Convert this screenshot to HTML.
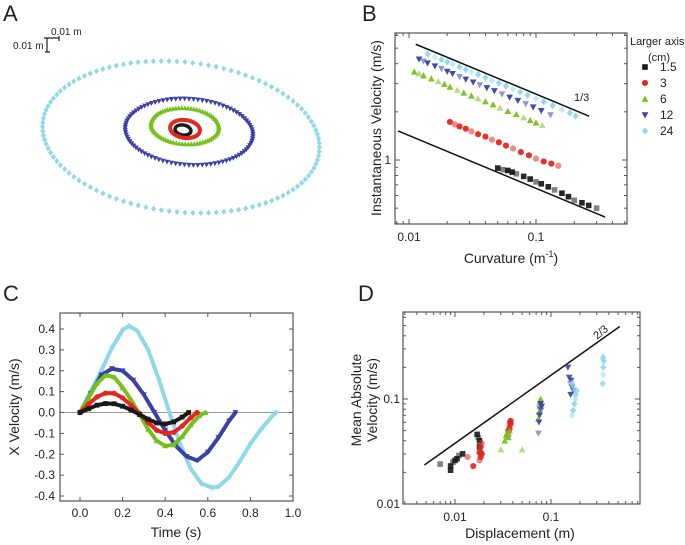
<!DOCTYPE html>
<html><head><meta charset="utf-8"><style>
body{margin:0;background:#fff;font-family:"Liberation Sans",Arial,sans-serif}
svg{display:block}
text{font-family:"Liberation Sans",Arial,sans-serif;fill:#222}
</style></head><body>
<svg id="fig" width="685" height="545" viewBox="0 0 685 545">
<text x="3" y="21" font-size="22">A</text>
<text x="362" y="21" font-size="22">B</text>
<text x="3" y="301" font-size="22">C</text>
<text x="358" y="301" font-size="22">D</text>
<g id="pa">
<text x="51" y="35" font-size="10">0.01 m</text>
<text x="13" y="49" font-size="10">0.01 m</text>
<path d="M47 38 V52 M44 38 H59 M59 36 V41 M45 52 H50" stroke="#222" stroke-width="1.2" fill="none"/>
</g>
<g id="pb"></g>
<g id="pc"></g>
<g id="pd"></g>
</svg>
<script>
// ---------- data ----------
const seriesNames=["1.5","3","6","12","24"];
const colors=["#1a1a1a","#e3261f","#74c01c","#3b40a4","#8fd8e8"];
const shapes=["square","circle","up","down","diamond"];
// Panel A ellipses: [cx, cy, rx, ry, rotation deg]
const ellA=[[183,130,8,5,10],[185,129,15,9,8],[185,126,34,18,4],[189,132,64,33,4],[181,137,139,75,6]];
// Panel B: curvature and velocity
const bCurv=[
[0.05,0.055,0.06,0.065,0.07,0.08,0.09,0.1,0.11,0.125,0.14,0.16,0.18,0.2,0.23,0.26,0.3],
[0.021,0.023,0.025,0.028,0.031,0.035,0.04,0.045,0.051,0.058,0.066,0.076,0.088,0.1,0.115,0.132,0.15],
[0.011,0.012,0.013,0.015,0.017,0.019,0.021,0.024,0.027,0.031,0.035,0.04,0.046,0.052,0.06,0.07,0.08,0.09,0.1,0.112],
[0.012,0.013,0.014,0.016,0.018,0.02,0.022,0.025,0.028,0.032,0.036,0.041,0.047,0.054,0.062,0.072,0.083,0.095,0.11,0.13],
[0.014,0.016,0.018,0.02,0.022,0.025,0.028,0.031,0.035,0.04,0.045,0.051,0.058,0.066,0.075,0.086,0.1,0.115,0.135,0.16,0.185,0.205]];
const bVel=[
[0.89,0.87,0.86,0.84,0.82,0.79,0.76,0.73,0.71,0.68,0.65,0.62,0.59,0.56,0.54,0.52,0.5],
[1.73,1.67,1.62,1.57,1.51,1.45,1.4,1.34,1.29,1.23,1.18,1.12,1.07,1.02,0.98,0.95,0.92],
[3.56,3.47,3.37,3.22,3.1,2.98,2.86,2.74,2.63,2.52,2.42,2.32,2.22,2.12,2.02,1.93,1.84,1.77,1.71,1.65],
[4.26,4.14,4.03,3.86,3.72,3.57,3.46,3.31,3.19,3.06,2.94,2.82,2.7,2.58,2.46,2.35,2.24,2.14,2.03,1.91],
[4.6,4.4,4.25,4.1,3.98,3.82,3.67,3.56,3.42,3.28,3.15,3.03,2.9,2.78,2.66,2.54,2.42,2.31,2.19,2.07,1.97,1.88]];
const bLines=[[0.0113,5.29,0.262,1.88],[0.0082,1.52,0.35,0.44]];
const bXTicks=[0.01,0.1];
const bYTicks=[1];
// Panel C: time (s) and x velocity (m/s)
const cTime=[
[0,0.04,0.08,0.12,0.16,0.2,0.24,0.28,0.32,0.36,0.4,0.44,0.48,0.51],
[0,0.04,0.08,0.12,0.16,0.2,0.24,0.28,0.32,0.36,0.4,0.44,0.48,0.52,0.55],
[0,0.04,0.08,0.12,0.16,0.2,0.24,0.28,0.32,0.36,0.4,0.44,0.48,0.52,0.56,0.59],
[0,0.05,0.1,0.15,0.2,0.25,0.3,0.35,0.4,0.45,0.5,0.55,0.6,0.65,0.7,0.73],
[0,0.05,0.1,0.15,0.2,0.23,0.27,0.32,0.37,0.42,0.47,0.52,0.57,0.62,0.65,0.7,0.75,0.8,0.85,0.9,0.92]];
const cVel=[
[0,0.018,0.035,0.043,0.042,0.03,0.012,-0.01,-0.032,-0.05,-0.055,-0.045,-0.022,0],
[0,0.04,0.075,0.093,0.092,0.07,0.035,-0.005,-0.048,-0.085,-0.1,-0.095,-0.065,-0.025,0],
[0,0.07,0.14,0.178,0.17,0.12,0.06,-0.01,-0.08,-0.135,-0.16,-0.155,-0.115,-0.06,-0.015,0],
[0,0.09,0.18,0.21,0.2,0.155,0.085,0.0,-0.085,-0.16,-0.21,-0.23,-0.19,-0.12,-0.04,0],
[0,0.1,0.2,0.31,0.395,0.415,0.39,0.3,0.16,0.0,-0.15,-0.27,-0.34,-0.36,-0.355,-0.31,-0.235,-0.15,-0.08,-0.02,0]];
const cXTicks=[0,0.2,0.4,0.6,0.8,1.0];
const cYTicks=[-0.4,-0.3,-0.2,-0.1,0,0.1,0.2,0.3,0.4];
// Panel D: displacement (m) and mean absolute velocity (m/s)
const dDisp=[
[0.007,0.009,0.009,0.0095,0.01,0.0105,0.011,0.012,0.017,0.0175,0.018,0.018,0.0185],
[0.0135,0.0155,0.018,0.018,0.0185,0.019,0.019,0.0185,0.036,0.037,0.0375,0.038,0.036,0.037,0.038],
[0.03,0.033,0.034,0.035,0.036,0.037,0.05,0.074,0.075,0.076,0.077,0.078,0.075],
[0.074,0.075,0.076,0.077,0.078,0.08,0.079,0.15,0.155,0.16,0.162,0.165,0.17,0.16],
[0.165,0.17,0.175,0.18,0.18,0.185,0.17,0.165,0.345,0.35,0.35,0.355,0.345,0.35]];
const dVel=[
[0.024,0.021,0.023,0.025,0.026,0.027,0.029,0.03,0.046,0.043,0.04,0.035,0.031],
[0.028,0.023,0.031,0.026,0.035,0.03,0.038,0.028,0.05,0.055,0.06,0.062,0.045,0.052,0.058],
[0.033,0.04,0.045,0.048,0.043,0.05,0.033,0.065,0.075,0.085,0.095,0.1,0.09],
[0.047,0.06,0.07,0.08,0.09,0.085,0.078,0.2,0.16,0.14,0.15,0.13,0.12,0.11],
[0.07,0.078,0.09,0.1,0.11,0.12,0.13,0.14,0.14,0.17,0.2,0.23,0.24,0.25]];
const dLine=[0.0048,0.0235,0.52,0.49];
const dXTicks=[0.01,0.1];
const dYTicks=[0.01,0.1];

// ---------- helpers ----------
const NS="http://www.w3.org/2000/svg";
function el(tag,attrs,parent){const e=document.createElementNS(NS,tag);for(const k in attrs)e.setAttribute(k,attrs[k]);parent.appendChild(e);return e;}
function marker(g,shape,x,y,s,color,op){
  let e;
  if(shape==="square")e=el("rect",{x:x-s,y:y-s,width:2*s,height:2*s,fill:color,"fill-opacity":op},g);
  else if(shape==="circle")e=el("circle",{cx:x,cy:y,r:s*1.1,fill:color,"fill-opacity":op},g);
  else if(shape==="up")e=el("polygon",{points:`${x},${y-s*1.2} ${x+s*1.2},${y+s} ${x-s*1.2},${y+s}`,fill:color,"fill-opacity":op},g);
  else if(shape==="down")e=el("polygon",{points:`${x},${y+s*1.2} ${x+s*1.2},${y-s} ${x-s*1.2},${y-s}`,fill:color,"fill-opacity":op},g);
  else e=el("polygon",{points:`${x},${y-s*1.3} ${x+s*1.1},${y} ${x},${y+s*1.3} ${x-s*1.1},${y}`,fill:color,"fill-opacity":op},g);
  return e;
}
function logScale(v0,p0,perDec){return v=>p0+Math.log10(v/v0)*perDec;}
function linScale(d0,d1,p0,p1){return v=>p0+(v-d0)/(d1-d0)*(p1-p0);}
function frame(g,x0,y0,x1,y1){
  const r=el("rect",{x:x0,y:y0,width:x1-x0,height:y1-y0,fill:"none",stroke:"#555","stroke-width":1.2},g);
  
  
}
function logTicks(g,axis,sc,lo,hi,pA,pB,isX){
  for(let d=Math.floor(Math.log10(lo));d<=Math.ceil(Math.log10(hi));d++){
    for(let m=1;m<10;m++){const v=m*Math.pow(10,d);if(v<lo||v>hi)continue;const p=sc(v);const len=m===1?5:3;
      if(isX){el("line",{x1:p,x2:p,y1:pB,y2:pB-len,stroke:"#555"},g);el("line",{x1:p,x2:p,y1:pA,y2:pA+len,stroke:"#555"},g);}
      else{el("line",{x1:pA,x2:pA+len,y1:p,y2:p,stroke:"#555"},g);el("line",{x1:pB,x2:pB-len,y1:p,y2:p,stroke:"#555"},g);}
    }}
}
function txt(g,x,y,s,size,anchor,name,rot){const t=el("text",{x:x,y:y,"font-size":size,"text-anchor":anchor||"start"},g);if(rot)t.setAttribute("transform",`rotate(-90 ${x} ${y})`);t.textContent=s;return t;}

// ---------- Panel A ----------
(function(){
  const g=document.getElementById("pa");
  ellA.forEach((e,i)=>{
    const [cx,cy,rx,ry,rot]=e;
    const gg=el("g",{transform:`rotate(${rot} ${cx} ${cy})`},g);
    
    
    if(i<2){el("ellipse",{cx:cx,cy:cy,rx:rx,ry:ry,fill:"none",stroke:colors[i],"stroke-width":i===0?3.5:4},gg);return;}
    const n=i===4?110:(i===3?90:70);
    const s=i===4?2.3:2.2;
    for(let k=0;k<n;k++){const a=k/n*2*Math.PI;marker(gg,shapes[i],cx+rx*Math.cos(a),cy+ry*Math.sin(a),s,colors[i],1);}
  });
})();

// ---------- Panel B ----------
(function(){
  const g=document.getElementById("pb");
  const X0=395,X1=627,Y0=33,Y1=224;
  const sx=logScale(0.01,409,127), sy=logScale(1,160,-160);
  frame(g,X0,Y0,X1,Y1);
  logTicks(g,"x",sx,0.0078,0.52,Y0,Y1,true);
  logTicks(g,"y",sy,0.4,6.2,X0,X1,false);
  bXTicks.forEach(v=>txt(g,sx(v),241,String(v),12,"middle","x-tick-label"));
  bYTicks.forEach(v=>txt(g,X0-4,sy(v)+4,String(v),12,"end","y-tick-label"));
  bLines.forEach((l,i)=>{const ln=el("line",{x1:sx(l[0]),y1:sy(l[1]),x2:sx(l[2]),y2:sy(l[3]),stroke:"#111","stroke-width":1.5},g);
    });
  txt(g,574,101,"1/3",11,"start","slope-label");
  bCurv.forEach((xs,i)=>{const gg=el("g",{},g);
    xs.forEach((x,k)=>marker(gg,shapes[i],sx(x),sy(bVel[i][k]),2.8,colors[i],k%3===1?0.55:0.95));});
  txt(g,381,128,"Instantaneous Velocity (m/s)",14,"middle","y-axis-title",true);
  const t=txt(g,511,263,"Curvature (m",14,"middle","x-axis-title");
  const sup=el("tspan",{dy:-6,"font-size":9},t);sup.textContent="-1";const cl=el("tspan",{dy:6},t);cl.textContent=")";
  const lg=el("g",{},g);
  txt(lg,630,45,"Larger axis",11,"start","legend-title");
  txt(lg,648,61,"(cm)",11,"start","legend-unit");
  seriesNames.forEach((n,i)=>{const y=67+i*16;marker(lg,shapes[i],645,y,2.8,colors[i],1);txt(lg,660,y+4,n,12,"start","legend-entry");});
})();

// ---------- Panel C ----------
(function(){
  const g=document.getElementById("pc");
  const X0=60,X1=293,Y0=313,Y1=501;
  const sx=linScale(0,1,80,293), sy=linScale(0.4,-0.4,329,496);
  frame(g,X0,Y0,X1,Y1);
  el("line",{x1:X0,x2:X1,y1:sy(0),y2:sy(0),stroke:"#999","stroke-width":1},g);
  cXTicks.forEach(v=>{const p=sx(v);el("line",{x1:p,x2:p,y1:Y1,y2:Y1-4,stroke:"#555"},g);el("line",{x1:p,x2:p,y1:Y0,y2:Y0+4,stroke:"#555"},g);
    txt(g,p,517,v.toFixed(1),12,"middle","x-tick-label");});
  cYTicks.forEach(v=>{const p=sy(v);el("line",{x1:X0,x2:X0+4,y1:p,y2:p,stroke:"#555"},g);el("line",{x1:X1,x2:X1-4,y1:p,y2:p,stroke:"#555"},g);
    txt(g,X0-5,p+4,v.toFixed(1),12,"end","y-tick-label");});
  [4,3,2,1,0].forEach(i=>{const gg=el("g",{},g);
    const pts=cTime[i].map((t,k)=>sx(t)+","+sy(cVel[i][k])).join(" ");
    el("polyline",{points:pts,fill:"none",stroke:colors[i],"stroke-width":4,"stroke-linejoin":"round","stroke-linecap":"round"},gg);
    cTime[i].forEach((t,k)=>marker(gg,shapes[i],sx(t),sy(cVel[i][k]),2.4,colors[i],1));});
  txt(g,19,407,"X Velocity (m/s)",14,"middle","y-axis-title",true);
  txt(g,176,537,"Time (s)",14,"middle","x-axis-title");
})();

// ---------- Panel D ----------
(function(){
  const g=document.getElementById("pd");
  const X0=403,X1=640,Y0=312,Y1=504;
  const sx=logScale(0.01,455,96), sy=logScale(0.01,504,-105);
  frame(g,X0,Y0,X1,Y1);
  logTicks(g,"x",sx,0.003,0.84,Y0,Y1,true);
  logTicks(g,"y",sy,0.01,0.67,X0,X1,false);
  dXTicks.forEach(v=>txt(g,sx(v),521,String(v),12,"middle","x-tick-label"));
  dYTicks.forEach(v=>txt(g,X0-3,sy(v)+4,String(v),12,"end","y-tick-label"));
  const ln=el("line",{x1:sx(dLine[0]),y1:sy(dLine[1]),x2:sx(dLine[2]),y2:sy(dLine[3]),stroke:"#111","stroke-width":1.5},g);
  
  const sl=txt(g,603,335,"2/3",11,"middle","slope-label");sl.setAttribute("transform","rotate(-40 603 335)");
  dDisp.forEach((xs,i)=>{const gg=el("g",{},g);
    xs.forEach((x,k)=>marker(gg,shapes[i],sx(x),sy(dVel[i][k]),2.8,colors[i],k%3===0?0.55:0.9));});
  txt(g,361,400,"Mean Absolute",14,"middle","y-axis-title-line1",true);
  txt(g,377,400,"Velocity (m/s)",14,"middle","y-axis-title-line2",true);
  txt(g,520,538,"Displacement (m)",14,"middle","x-axis-title");
})();
</script>
</body></html>
